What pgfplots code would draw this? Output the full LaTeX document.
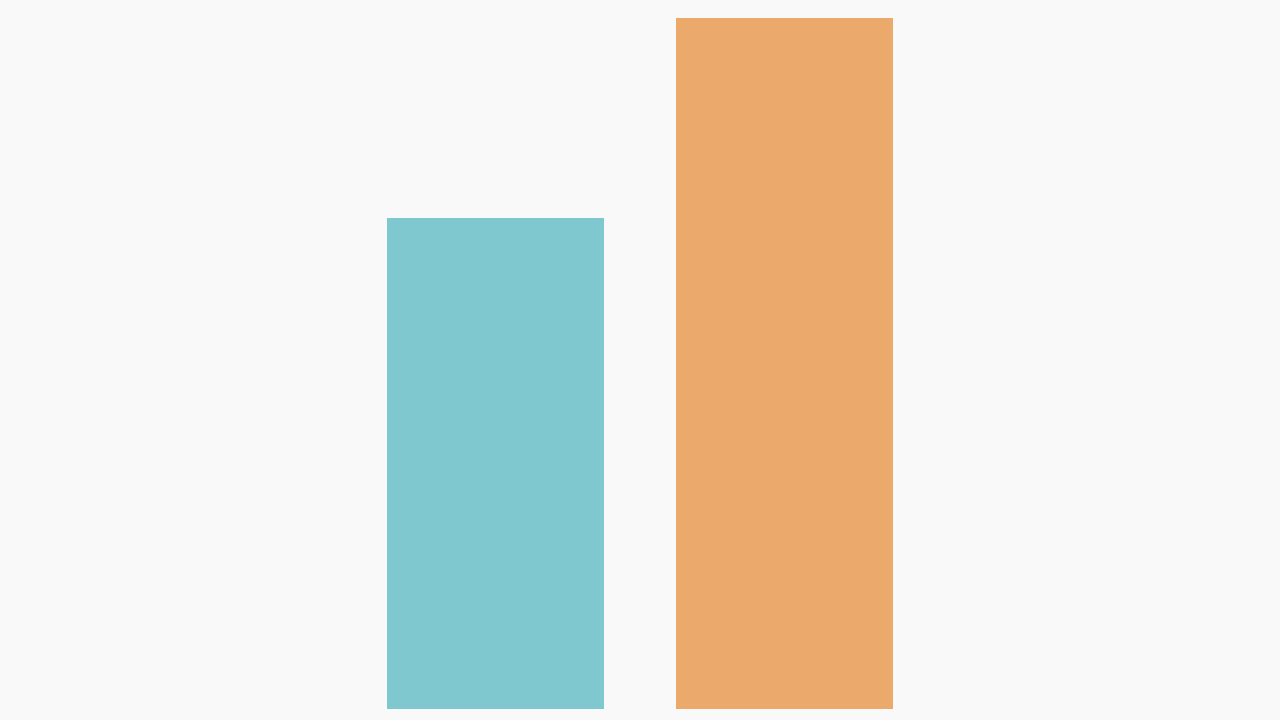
\documentclass[border=0pt]{standalone}
\usepackage{pgfplots}
\pgfplotsset{compat=1.18}
\definecolor{bgpage}{HTML}{F9F9F9}
\definecolor{barteal}{HTML}{7FC8CF}
\definecolor{barorange}{HTML}{EBAA6B}
\begin{document}
\begin{tikzpicture}
  \fill[bgpage] (0,0) rectangle (12.8cm,7.2cm);
  \begin{axis}[
      at={(0,0)}, anchor=south west,
      scale only axis,
      width=12.8cm, height=7.2cm,
      hide axis,
      xmin=-1.7145, xmax=2.7145,
      ymin=-1.59, ymax=102.6,
      ybar,
      bar width=0.751,
    ]
    % values
    \addplot[fill=barteal, draw=none, bar shift=0pt] coordinates {(0,71.1)};
    \addplot[fill=barorange, draw=none, bar shift=0pt] coordinates {(1,100)};
  \end{axis}
  \pgfresetboundingbox
  \useasboundingbox (0,0) rectangle (12.8cm,7.2cm);
\end{tikzpicture}
\end{document}
